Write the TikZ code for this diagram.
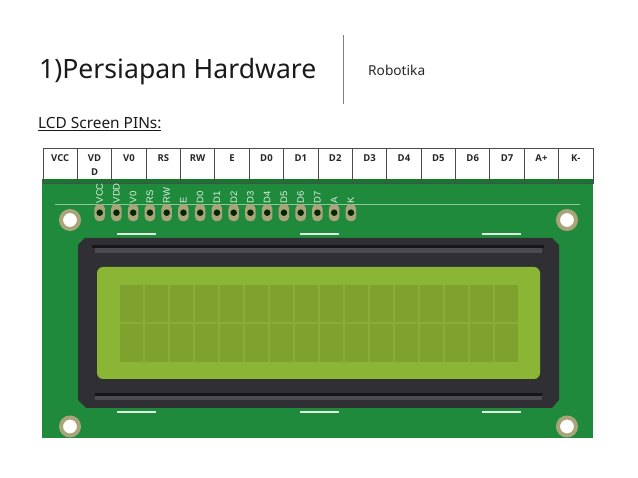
\documentclass[tikz,border=0pt]{standalone}
\usepackage{fontspec}
\setmainfont{Noto Sans}
\newfontfamily\silkfont{Liberation Sans}
\newfontfamily\cellfont{Open Sans}
\usetikzlibrary{positioning}
\definecolor{boardgreen}{HTML}{1F8A3C}
\definecolor{boarddark}{HTML}{16772F}
\definecolor{bezelgrey}{HTML}{303034}
\definecolor{bezellight}{HTML}{4C4C50}
\definecolor{bezelblack}{HTML}{16161A}
\definecolor{screengreen}{HTML}{8AB535}
\definecolor{chargreen}{HTML}{7FA22E}
\definecolor{chargap}{HTML}{89AE35}
\definecolor{padtan}{HTML}{A9A47A}
\definecolor{ticklight}{HTML}{DCEFDF}

\begin{document}
\begin{tikzpicture}[x=1pt,y=-1pt,
	pincell/.style={draw=black!70,line width=0.8pt,minimum width=34.375pt,minimum height=35pt,inner sep=0pt},
	pinname/.style={align=center,inner sep=0pt,font=\fontsize{9.5}{14}\selectfont\cellfont\bfseries,text=black!85},
	pinpad/.style={draw=none,fill=padtan,rounded corners=4.5pt,minimum width=10.5pt,minimum height=17pt,inner sep=0pt},
	pinhole/.style={circle,fill=black!85!green,minimum size=6.5pt,inner sep=0pt},
	pinsilk/.style={anchor=west,rotate=90,inner sep=0pt,text=ticklight,font=\fontsize{9.5}{9.5}\selectfont\silkfont},
	mounthole/.style={circle,fill=white,draw=padtan,line width=4pt,minimum size=18pt,inner sep=0pt},
	marktick/.style={ticklight,line width=2pt}]

	\useasboundingbox (0,0) rectangle (638,478);

	\node [anchor=base west,inner sep=0pt,font=\fontsize{26.6}{30}\selectfont,text=black!90] at (39,79)	(title)		{1)Persiapan Hardware};
	\node [anchor=base west,inner sep=0pt,font=\fontsize{13.7}{16}\selectfont,text=black!85] at (368,75.5)	(topic)		{Robotika};
	\node [anchor=base west,inner sep=0pt,font=\fontsize{15.4}{17}\selectfont,text=black!90] at (38,128.5)	(subtitle)	{\underline{LCD Screen PINs:}};
	\coordinate (rule_top) at (343.7,35);
	\coordinate (rule_bot) at (343.7,104);
	\draw [black!50,line width=1pt] (rule_top) -- (rule_bot);

	\fill [boardgreen] (42,179) rectangle (593,438);
	\fill [boarddark] (42,179) rectangle (593,183);
	\draw [ticklight!60!boardgreen,line width=1pt] (55,205) -- (580,205);

	\foreach \i/\name in {0/VCC,1/{VD\\D},2/V0,3/RS,4/RW,5/E,6/D0,7/D1,8/D2,9/D3,10/D4,11/D5,12/D6,13/D7,14/A+,15/K-}
	{
		\fill [white] (43+\i*34.375,148) rectangle ++(34.375,31);
		\node [pincell] at (60.2+\i*34.375,165.5)	(cell_\i)	{};
		\node [pinname,below=6.5pt of cell_\i.north]	(name_\i)	{\name};
	}

	\foreach \i/\name in {0/VCC,1/VDD,2/V0,3/RS,4/RW,5/E,6/D0,7/D1,8/D2,9/D3,10/D4,11/D5,12/D6,13/D7,14/A,15/K}
	{
		\node [pinpad] at (99.7+\i*16.75,212.7)	(pad_\i)	{};
		\node [pinhole] at (pad_\i)				(hole_\i)	{};
		\node [pinsilk] at (99.7+\i*16.75,203.5)	(silk_\i)	{\name};
	}

	\node [mounthole] at (70,220)		(mount_tl)	{};
	\node [mounthole] at (567,220)		(mount_tr)	{};
	\node [mounthole] at (70,426.5)		(mount_bl)	{};
	\node [mounthole] at (567,426.5)	(mount_br)	{};

	\foreach \x in {117,300,482}
	{
		\draw [marktick] (\x,234) -- ++(38.5,0);
		\draw [marktick] (\x,412) -- ++(38.5,0);
	}

	\fill [bezelgrey] (85,238) -- (552,238) -- (559,245) -- (559,400) -- (552,408) -- (86,408) -- (78,400) -- (78,245) -- cycle;
	\fill [bezelblack] (92,245) rectangle (544,248.5);
	\fill [bezellight] (95,248.5) rectangle (542,253);
	\fill [bezelblack] (95,393) rectangle (542,396);
	\fill [bezellight] (95,396) rectangle (542,400);

	\fill [screengreen,rounded corners=6pt] (97,267) rectangle (540,379);
	\fill [chargap] (120,285) rectangle (518,362);
	\foreach \c in {0,...,15}
	{
		\fill [chargreen] (120+\c*25,285) rectangle ++(23,37);
		\fill [chargreen] (120+\c*25,324.5) rectangle ++(23,37.5);
	}

\end{tikzpicture}
\end{document}
